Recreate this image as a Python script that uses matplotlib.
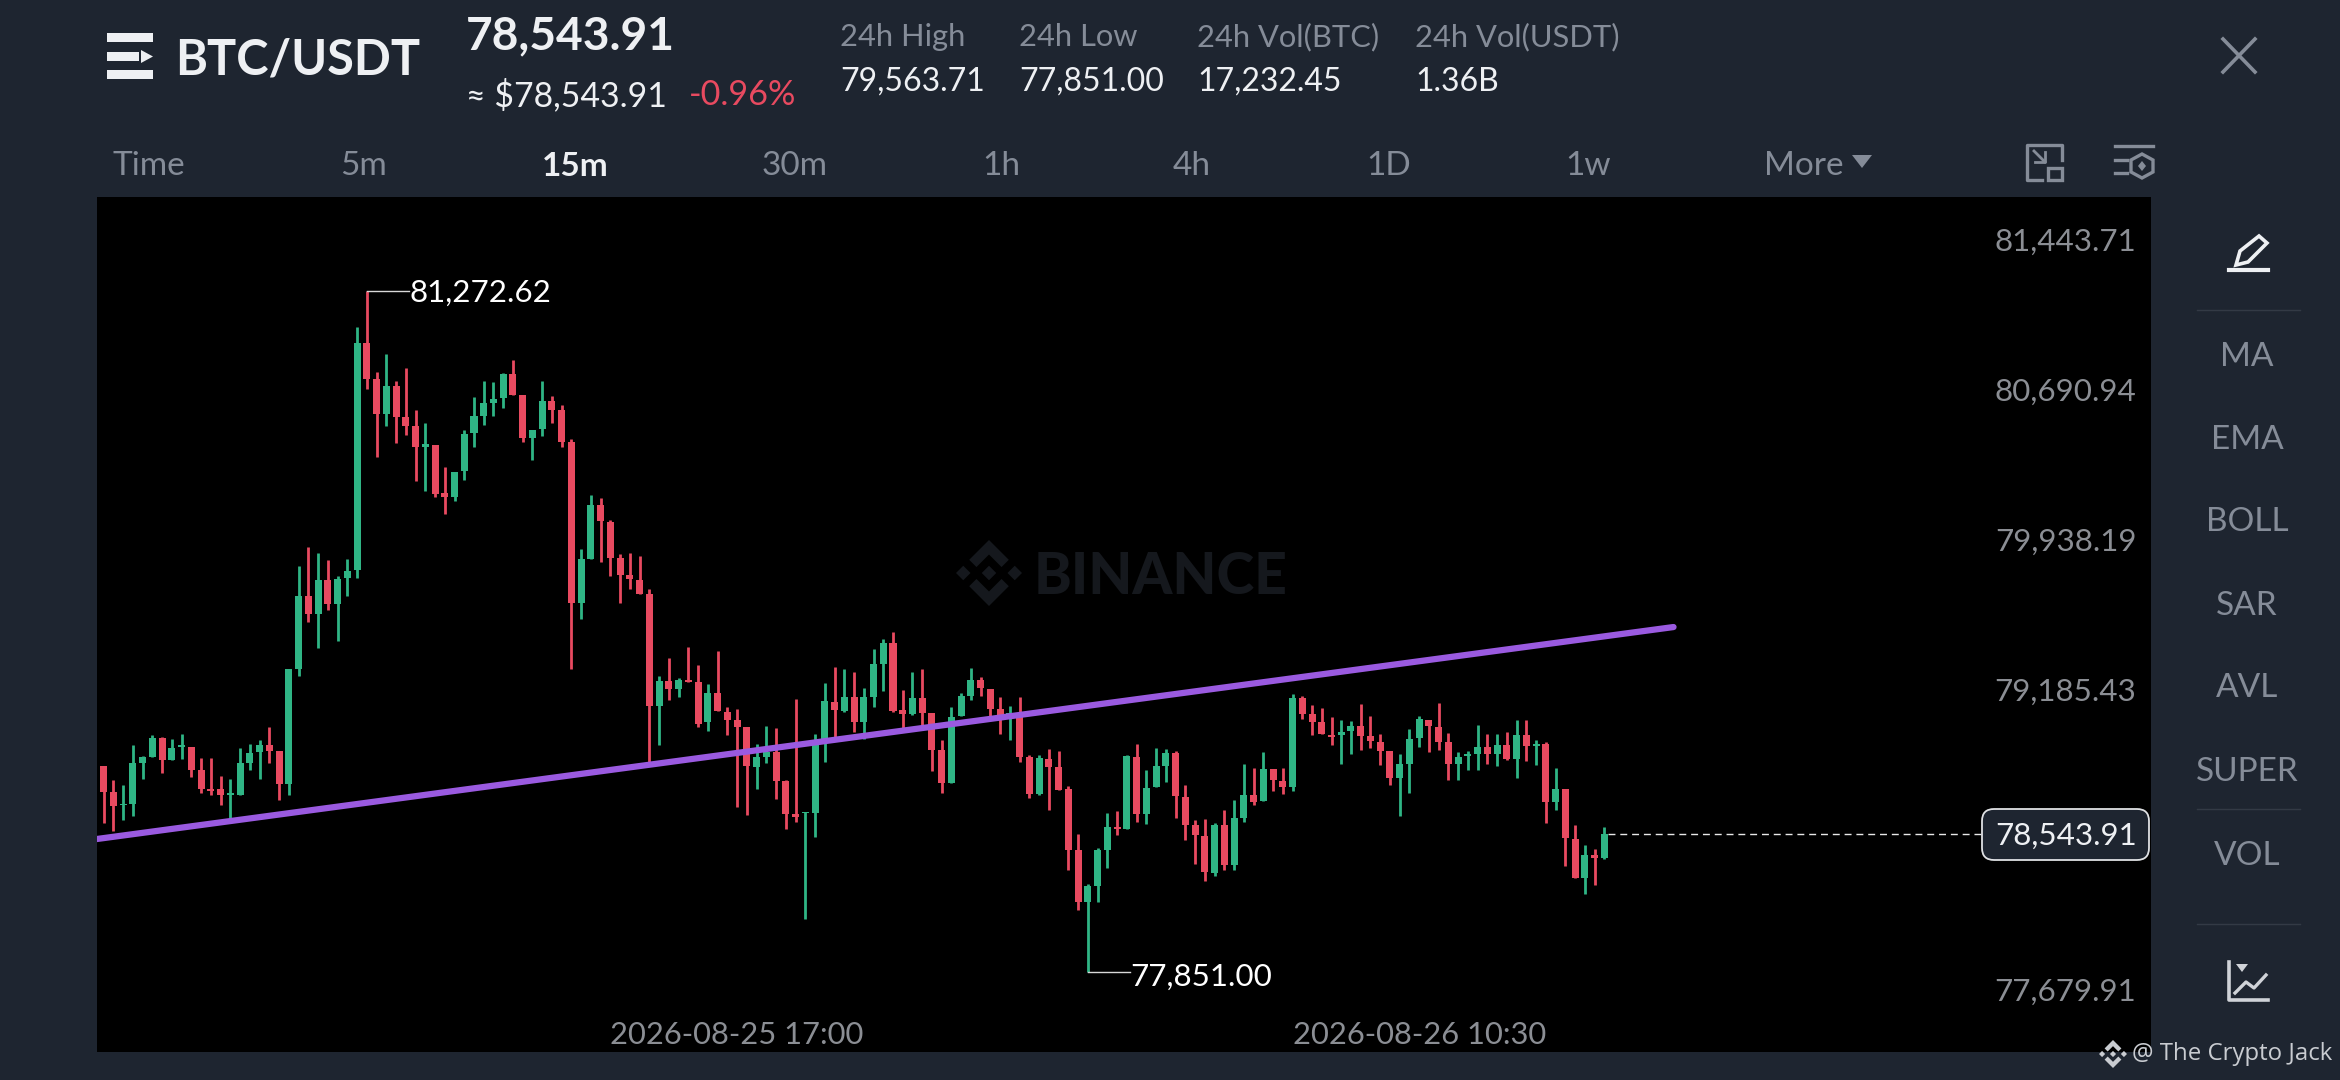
import numpy as np
from matplotlib import pyplot as plt
from matplotlib.patches import FancyBboxPatch, Polygon, Rectangle

# candle data
opens = [78886,78756,78689,78694,78904,78933,79027,78917,78984,78983,
         78867,78771,78771,78742,78740,78904,78956,78990,78961,78798,
         79371,79739,79649,79822,79701,79828,79870,81009,80827,80654,
         80792,80638,80592,80490,80496,80256,80239,80366,80556,80642,
         80709,80734,80854,80748,80533,80577,80719,80673,80514,79706,
         79927,80199,80111,79930,79843,79820,79748,79187,79311,79274,
         79318,79308,79105,79253,79159,79117,79080,78883,78933,78956,
         78813,78644,78650,78649,79020,79207,79164,79234,79107,79234,
         79400,79502,79167,79147,79227,79154,78966,78799,79139,79238,
         79318,79274,79172,79125,79151,78933,78744,78922,78881,78770,
         78464,78205,78283,78464,78581,78568,78932,78645,78779,78889,
         78953,78732,78589,78536,78352,78588,78389,78628,78743,78710,
         78869,78810,78779,79230,79147,79105,79043,79041,79061,79086,
         79036,79008,78963,78825,78899,79026,79116,79083,79006,78896,
         78936,78946,78983,78949,78993,78924,79041,78988,78999,78707,
         78772,78521,78325,78442,78426]
closes = [78756,78685,78698,78900,78933,79027,78917,78979,78994,78867,
          78771,78760,78740,78752,78900,78954,78990,78963,78798,79371,
          79739,79649,79822,79701,79826,79866,81009,80830,80654,80792,
          80638,80592,80489,80502,80254,80239,80364,80552,80642,80706,
          80731,80854,80750,80531,80571,80719,80673,80514,79707,79925,
          80198,80114,79932,79845,79823,79748,79187,79314,79273,79319,
          79308,79095,79253,79161,79117,79080,78886,78933,78956,78811,
          78647,78629,78657,79017,79211,79167,79232,79107,79234,79398,
          79502,79164,79147,79226,79154,78966,78799,79134,79239,79318,
          79276,79172,79125,79151,78933,78744,78928,78881,78768,78464,
          78205,78283,78467,78581,78568,78936,78645,78777,78887,78953,
          78735,78589,78539,78355,78589,78389,78628,78743,78708,78869,
          78815,78782,79230,79147,79106,79045,79033,79058,79086,79038,
          79011,78964,78824,78899,79023,79120,79086,79008,78896,78934,
          78946,78983,78949,78993,78922,79041,78989,78999,78707,78772,
          78523,78325,78442,78427,78543.91]
highs = [78886,78817,78790,78994,78938,79040,79032,79021,79048,78984,
         78929,78925,78836,78819,78977,78998,79015,79082,78961,79371,
         79889,79985,79956,79918,79841,79928,81090,81272.62,80865,80955,
         80817,80882,80673,80606,80496,80389,80364,80575,80740,80821,
         80815,80859,80923,80750,80571,80819,80742,80696,80529,79974,
         80246,80230,80121,79949,79957,79939,79773,79340,79428,79326,
         79482,79393,79298,79462,79184,79171,79080,78997,79089,79077,
         78816,79221,78657,79047,79301,79385,79373,79356,79276,79472,
         79525,79560,79268,79356,79371,79154,79017,79181,79254,79376,
         79331,79274,79234,79187,79231,78941,78941,78974,78961,78785,
         78543,78293,78477,78651,78661,78941,78996,78866,78978,78974,
         78963,78792,78618,78623,78601,78665,78718,78899,78876,78958,
         78869,78874,79250,79239,79192,79180,79133,79116,79111,79197,
         79137,79046,78963,78949,79070,79140,79116,79203,79053,78958,
         78963,79093,79045,79046,79058,79116,79116,79019,79008,78874,
         78772,78588,78489,78469,78578]
lows = [78598,78560,78618,78637,78823,78933,78852,78917,78921,78833,
        78752,78740,78692,78625,78740,78867,78823,78900,78714,78742,
        79336,79611,79478,79672,79513,79741,79828,80779,80437,80592,
        80510,80546,80316,80268,80235,80152,80216,80323,80489,80600,
        80642,80684,80750,80514,80423,80542,80608,80487,79371,79622,
        79927,79908,79841,79706,79776,79748,78908,78992,79217,79234,
        79308,79084,79064,79161,79043,78682,78639,78771,78900,78719,
        78572,78605,78120,78532,78908,79033,79159,79059,79020,79184,
        79263,79159,79079,79142,79092,78861,78752,78799,79139,79217,
        79238,79117,79047,79017,78908,78727,78739,78665,78768,78364,
        78163,77851,78205,78377,78539,78568,78603,78594,78779,78807,
        78628,78514,78394,78310,78335,78364,78367,78606,78692,78710,
        78762,78745,78760,79121,79041,79045,78991,78899,78949,78966,
        78979,78891,78790,78636,78752,78983,78958,78969,78815,78814,
        78866,78866,78899,78886,78919,78827,78912,78894,78598,78665,
        78384,78325,78242,78288,78422]

# price axis and date labels
y_ticks = [81443.71, 80690.94, 79938.19, 79185.43, 77679.91]
y_tick_labels = ['81,443.71', '80,690.94', '79,938.19', '79,185.43', '77,679.91']
date_ticks = [65, 135]
date_labels = ['2026-08-25 17:00', '2026-08-26 10:30']
trend_x = [-0.72, 161.1]
trend_price = [78520, 79584]
last_price = 78543.91
high_idx, high_price = 27, 81272.62
low_idx, low_price = 101, 77851.00

# header text
stat_heads = ['24h High', '24h Low', '24h Vol(BTC)', '24h Vol(USDT)']
stat_vals = ['79,563.71', '77,851.00', '17,232.45', '1.36B']
stat_x = [840, 1019, 1197, 1415]
tabs = ['Time', '5m', '15m', '30m', '1h', '4h', '1D', '1w']
tab_x = [149, 364, 575, 795, 1001, 1192, 1389, 1588]
side_items = ['MA', 'EMA', 'BOLL', 'SAR', 'AVL', 'SUPER', 'VOL']
side_y = [354, 437, 519, 603, 685, 769, 853]

BG = '#1e2530'
GREEN = '#2fb585'
RED = '#e84a60'
GREY = '#858c98'
TICK = '#8b8e94'
WHITE = '#eef0f3'
PURPLE = '#9a5ae0'
W, H = 2340, 1080

plt.rcParams['font.family'] = ['Lato', 'DejaVu Sans']

fig = plt.figure(figsize=(W / 100, H / 100), dpi=100, facecolor=BG)

# chart area in pixels
left, right, top, bottom = 96.7, 2151, 196.7, 1051.7
ax = fig.add_axes([left / W, 1 - bottom / H, (right - left) / W, (bottom - top) / H])
ax.set_facecolor('black')
ax.set_xlim(-0.72, 210.1)
ax.set_ylim(77452.6, 81743.9)
ax.set_xticks([])
ax.set_yticks([])
for s in ax.spines.values():
    s.set_visible(False)

xs = np.arange(len(opens))
o = np.array(opens)
c = np.array(closes)
colors = [GREEN if c[i] >= o[i] else RED for i in xs]
ax.vlines(xs, lows, highs, colors=colors, linewidth=2.0, zorder=2)
ax.bar(xs, np.abs(c - o), bottom=np.minimum(o, c), width=0.72, color=colors, linewidth=0, zorder=3)
ax.plot(trend_x, trend_price, color=PURPLE, linewidth=4.5, solid_capstyle='round', zorder=4)

# last price dashed line
ax.plot([xs[-1] + 0.4, 192.7], [last_price, last_price], color='#e8e8e8', linewidth=1,
        dashes=(5, 3.5), zorder=2)

# high / low markers
ax.plot([high_idx, high_idx + 4.3], [high_price, high_price], color='#d8d8d8', linewidth=1, zorder=5)
ax.plot([low_idx, low_idx + 4.3], [low_price, low_price], color='#d8d8d8', linewidth=1, zorder=5)
ax.annotate('81,272.62', (high_idx + 4.3, high_price), xytext=(0.5, -1.5), textcoords='offset points',
            color='white', fontsize=22.6, va='center', ha='left')
ax.annotate('77,851.00', (low_idx + 4.3, low_price), xytext=(0.5, -3), textcoords='offset points',
            color='white', fontsize=22.6, va='center', ha='left')

# tick labels sit above the price they mark
for v, lab in zip(y_ticks, y_tick_labels):
    ax.annotate(lab, (1, v), xycoords=ax.get_yaxis_transform(), xytext=(-10.5, 10.5),
                textcoords='offset points', color=TICK, fontsize=22.6, ha='right', va='center')
for d, lab in zip(date_ticks, date_labels):
    ax.annotate(lab, (d, 77452.6), xytext=(0, 12), textcoords='offset points',
                color=TICK, fontsize=22.2, ha='center', va='center')

# overlay in pixel coords for the app chrome
ui = fig.add_axes([0, 0, 1, 1], zorder=5)
ui.set_xlim(0, W)
ui.set_ylim(H, 0)
ui.axis('off')
ui.patch.set_alpha(0)


def label(x, y, s, size=21, color=WHITE, ha='left', weight='normal', family=None):
    kw = {}
    if family:
        kw['family'] = family
    ui.text(x, y + 3, s, fontsize=size, color=color, ha=ha, va='center', fontweight=weight, **kw)


def binance_logo(cx, cy, r, color):
    pts = [[(-0.22, 0), (0, -0.22), (0.22, 0), (0, 0.22)],
           [(-1, 0), (-0.78, -0.22), (-0.56, 0), (-0.78, 0.22)],
           [(1, 0), (0.78, -0.22), (0.56, 0), (0.78, 0.22)],
           [(0, -1), (0.6, -0.4), (0.38, -0.18), (0, -0.56), (-0.38, -0.18), (-0.6, -0.4)],
           [(0, 1), (0.6, 0.4), (0.38, 0.18), (0, 0.56), (-0.38, 0.18), (-0.6, 0.4)]]
    for p in pts:
        ui.add_patch(Polygon([(cx + a * r, cy + b * r) for a, b in p], closed=True, color=color, lw=0))


# header
for y0, y1, x1 in [(33, 42, 153), (52, 61, 139), (70, 79, 153)]:
    ui.add_patch(Rectangle((107, y0), x1 - 107, y1 - y0, color=WHITE, lw=0))
ui.add_patch(Polygon([(141, 50), (153, 56.5), (141, 63)], closed=True, color=WHITE, lw=0))
label(175, 57, 'BTC/USDT', 35, weight='bold')
label(466, 33, '78,543.91', 33.2, weight='bold')
label(466, 92, '≈ $78,543.91', 24.3)
label(689, 92, '-0.96%', 24.6, color=RED)
for x, h, v in zip(stat_x, stat_heads, stat_vals):
    label(x, 34, h, 22.2, color=GREY)
    label(x, 79, v, 23)
ui.plot([2223, 2255], [39, 72], color=GREY, lw=2.6)
ui.plot([2223, 2255], [72, 39], color=GREY, lw=2.6)

# interval tabs
for x, t in zip(tab_x, tabs):
    if t == '15m':
        label(x, 163, t, 24, ha='center', weight='bold')
    else:
        label(x, 163, t, 24, color=GREY, ha='center')
label(1764, 163, 'More', 24, color=GREY)
ui.add_patch(Polygon([(1852, 155), (1872, 155), (1862, 168)], closed=True, color=GREY, lw=0))

# resize icon
ui.plot([2042, 2027, 2027, 2062, 2062], [180, 180, 145, 145, 160], color=GREY, lw=2.4)
ui.add_patch(Rectangle((2048, 168), 14, 12, fill=False, ec=GREY, lw=2.4))
ui.plot([2034, 2045], [151, 162], color=GREY, lw=2)
ui.plot([2035, 2045, 2045], [162, 162, 152], color=GREY, lw=2)
# settings icon
ui.plot([2115, 2153], [146, 146], color=GREY, lw=2.4)
ui.plot([2115, 2127], [160, 160], color=GREY, lw=2.4)
ui.plot([2115, 2127], [173, 173], color=GREY, lw=2.4)
ui.add_patch(Polygon([(2142, 154), (2153, 160), (2153, 172), (2142, 178), (2131, 172), (2131, 160)],
                     closed=True, fill=False, ec=GREY, lw=2.4))
ui.add_patch(Polygon([(2142, 161), (2146, 166), (2142, 171), (2138, 166)], closed=True, color=GREY, lw=0))

# sidebar
for y, t in zip(side_y, side_items):
    label(2247, y, t, 24, color=GREY, ha='center')
for y in [310, 809, 924]:
    ui.plot([2197, 2300], [y, y], color='#333a45', lw=1)
# pencil
ui.add_patch(Polygon([(2240, 251), (2259, 236), (2267, 243), (2248, 262), (2236, 265)],
                     closed=True, fill=False, ec=WHITE, lw=2.6))
ui.plot([2229, 2268], [270, 270], color=WHITE, lw=3)
# chart icon
ui.plot([2229, 2229, 2268], [962, 1000, 1000], color='#d0d3d8', lw=2.6)
ui.plot([2235, 2246, 2254, 2266], [993, 982, 988, 975], color='#d0d3d8', lw=2.4)
ui.add_patch(Polygon([(2236, 964), (2248, 964), (2242, 972)], closed=True, color='#d0d3d8', lw=0))

# chart watermark
binance_logo(989, 573, 33, '#15181d')
label(1034, 574, 'BINANCE', 41, color='#15181d', weight='black')

# last price box
ui.add_patch(FancyBboxPatch((1982, 809), 167, 51, boxstyle='round,pad=0,rounding_size=12', fc=BG, ec='#dfe1e4', lw=1.3))
label(2066, 833, '78,543.91', 22.6, ha='center')

# footer credit
binance_logo(2113, 1054, 14, '#c9ccd1')
label(2132, 1051, '@ The Crypto Jack', 17.3, color='#c9ccd1', family='Open Sans')

fig.savefig('out.png', dpi=100, facecolor=BG)
